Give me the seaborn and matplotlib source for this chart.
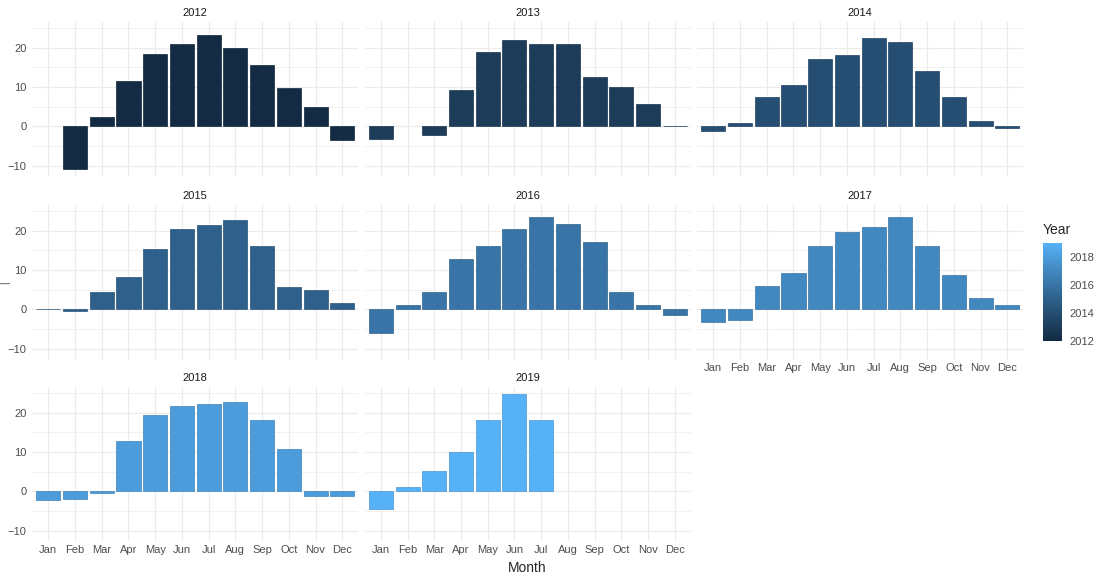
"""
Monthly temperature anomaly by year - facet bar chart
"""
import numpy as np
import pandas as pd
import matplotlib
matplotlib.use("Agg")
import matplotlib.pyplot as plt
import seaborn as sns
from matplotlib.colors import ListedColormap, Normalize
from matplotlib.cm import ScalarMappable
from matplotlib.ticker import MultipleLocator

sns.set_theme(style="white")
plt.rcParams["font.family"] = ["Liberation Sans", "DejaVu Sans"]

# data (nan = no bar)
months = ["Jan", "Feb", "Mar", "Apr", "May", "Jun",
          "Jul", "Aug", "Sep", "Oct", "Nov", "Dec"]
years = [2012, 2013, 2014, 2015, 2016, 2017, 2018, 2019]
nan = np.nan
v2012 = [nan, -10.8, 2.4, 11.6, 18.3, 20.9, 23.3, 19.8, 15.5, 9.7, 4.8, -3.5]
v2013 = [-3.3, nan, -2.2, 9.3, 18.9, 21.8, 20.8, 20.8, 12.5, 9.9, 5.8, 0.15]
v2014 = [-1.2, 0.9, 7.5, 10.5, 17.0, 18.1, 22.3, 21.3, 14.0, 7.5, 1.3, -0.5]
v2015 = [0.2, -0.3, 4.5, 8.2, 15.3, 20.5, 21.5, 22.7, 16.2, 5.8, 5.0, 1.6]
v2016 = [-6.1, 1.0, 4.4, 12.8, 16.2, 20.5, 23.4, 21.6, 17.1, 4.4, 1.0, -1.3]
v2017 = [-3.2, -2.6, 5.9, 9.2, 16.2, 19.7, 21.0, 23.4, 16.2, 8.7, 2.8, 1.0]
v2018 = [-2.3, -2.0, -0.3, 12.7, 19.5, 21.6, 22.1, 22.7, 18.2, 10.7, -1.2, -1.2]
v2019 = [-4.5, 1.1, 5.3, 10.0, 18.2, 24.7, 18.0, nan, nan, nan, nan, nan]
values = [v2012, v2013, v2014, v2015, v2016, v2017, v2018, v2019]

df = pd.DataFrame({
    "Year": np.repeat(years, len(months)),
    "Month": months * len(years),
    "Value": np.concatenate(values),
}).dropna()


# ggplot-like gradient (#132B43 -> #56B1F7) interpolated in Lab space
def hex_to_rgb(h):
    h = h.lstrip("#")
    return np.array([int(h[i:i + 2], 16) / 255 for i in (0, 2, 4)])


M = np.array([[0.4124, 0.3576, 0.1805],
              [0.2126, 0.7152, 0.0722],
              [0.0193, 0.1192, 0.9505]])
WHITE = np.array([0.95047, 1.0, 1.08883])
D = 6 / 29


def rgb_to_lab(rgb):
    lin = np.where(rgb <= 0.04045, rgb / 12.92, ((rgb + 0.055) / 1.055) ** 2.4)
    xyz = M @ lin / WHITE
    f = np.where(xyz > D ** 3, np.cbrt(xyz), xyz / (3 * D ** 2) + 4 / 29)
    return np.array([116 * f[1] - 16, 500 * (f[0] - f[1]), 200 * (f[1] - f[2])])


def lab_to_rgb(lab):
    fy = (lab[0] + 16) / 116
    f = np.array([fy + lab[1] / 500, fy, fy - lab[2] / 200])
    xyz = np.where(f > D, f ** 3, 3 * D ** 2 * (f - 4 / 29)) * WHITE
    lin = np.linalg.solve(M, xyz)
    lin = np.clip(lin, 0, 1)
    rgb = np.where(lin <= 0.0031308, 12.92 * lin, 1.055 * lin ** (1 / 2.4) - 0.055)
    return np.clip(rgb, 0, 1)


lab_lo = rgb_to_lab(hex_to_rgb("#132B43"))
lab_hi = rgb_to_lab(hex_to_rgb("#56B1F7"))
cmap = ListedColormap([lab_to_rgb(lab_lo + t * (lab_hi - lab_lo))
                       for t in np.linspace(0, 1, 256)])
norm = Normalize(2012, 2019)

W, H = 1104, 578
fig = plt.figure(figsize=(W / 100, H / 100), dpi=100)

col_left = [32.3, 364.8, 697.3]
row_top = [22, 205, 387]
pw, ph = 326, 154

for i, year in enumerate(years):
    r, c = divmod(i, 3)
    ax = fig.add_axes([col_left[c] / W, 1 - (row_top[r] + ph) / H, pw / W, ph / H])
    col = cmap(norm(year))
    edge = tuple(np.array(col[:3]) * 0.85)
    sns.barplot(data=df[df["Year"] == year], x="Month", y="Value", order=months,
                color=col, saturation=1, width=0.9, errorbar=None,
                edgecolor=edge, linewidth=0.5, ax=ax)
    ax.set_xlim(-0.6, 11.6)
    ax.set_ylim(-12.58, 26.48)
    ax.yaxis.set_major_locator(MultipleLocator(10))
    ax.yaxis.set_minor_locator(MultipleLocator(5))
    ax.grid(which="major", color="#EBEBEB", lw=0.9)
    ax.grid(which="minor", axis="y", color="#EBEBEB", lw=0.5)
    ax.set_axisbelow(True)
    for s in ax.spines.values():
        s.set_visible(False)
    ax.tick_params(which="both", length=0, labelsize=8, labelcolor="#4D4D4D")
    ax.tick_params(axis="y", pad=4)
    ax.tick_params(axis="x", pad=3)
    ax.set_xlabel("")
    ax.set_ylabel("")
    bottom = r == 2 or (r == 1 and c == 2)
    ax.tick_params(labelleft=(c == 0), labelbottom=bottom)
    ax.set_title(str(year), fontsize=8, color="#1A1A1A", pad=4)

fig.text(527 / W, 1 - 568 / H, "Month", fontsize=10, ha="center", va="center")
fig.text(5 / W, 1 - 283 / H, "|", fontsize=7, rotation=90, ha="center", va="center",
         color="#333333")

# colour bar legend
cax = fig.add_axes([1043 / W, 1 - 341 / H, 19 / W, 98 / H])
cb = fig.colorbar(ScalarMappable(norm=norm, cmap=cmap), cax=cax,
                  ticks=[2012, 2014, 2016, 2018])
cb.outline.set_visible(False)
cax.tick_params(left=True, right=True, direction="in", length=4, width=0.8,
                color="white", labelsize=8, labelcolor="#4D4D4D", pad=5)
fig.text(1043 / W, 1 - 230 / H, "Year", fontsize=10, ha="left", va="center")

fig.savefig("out.png", dpi=100)
